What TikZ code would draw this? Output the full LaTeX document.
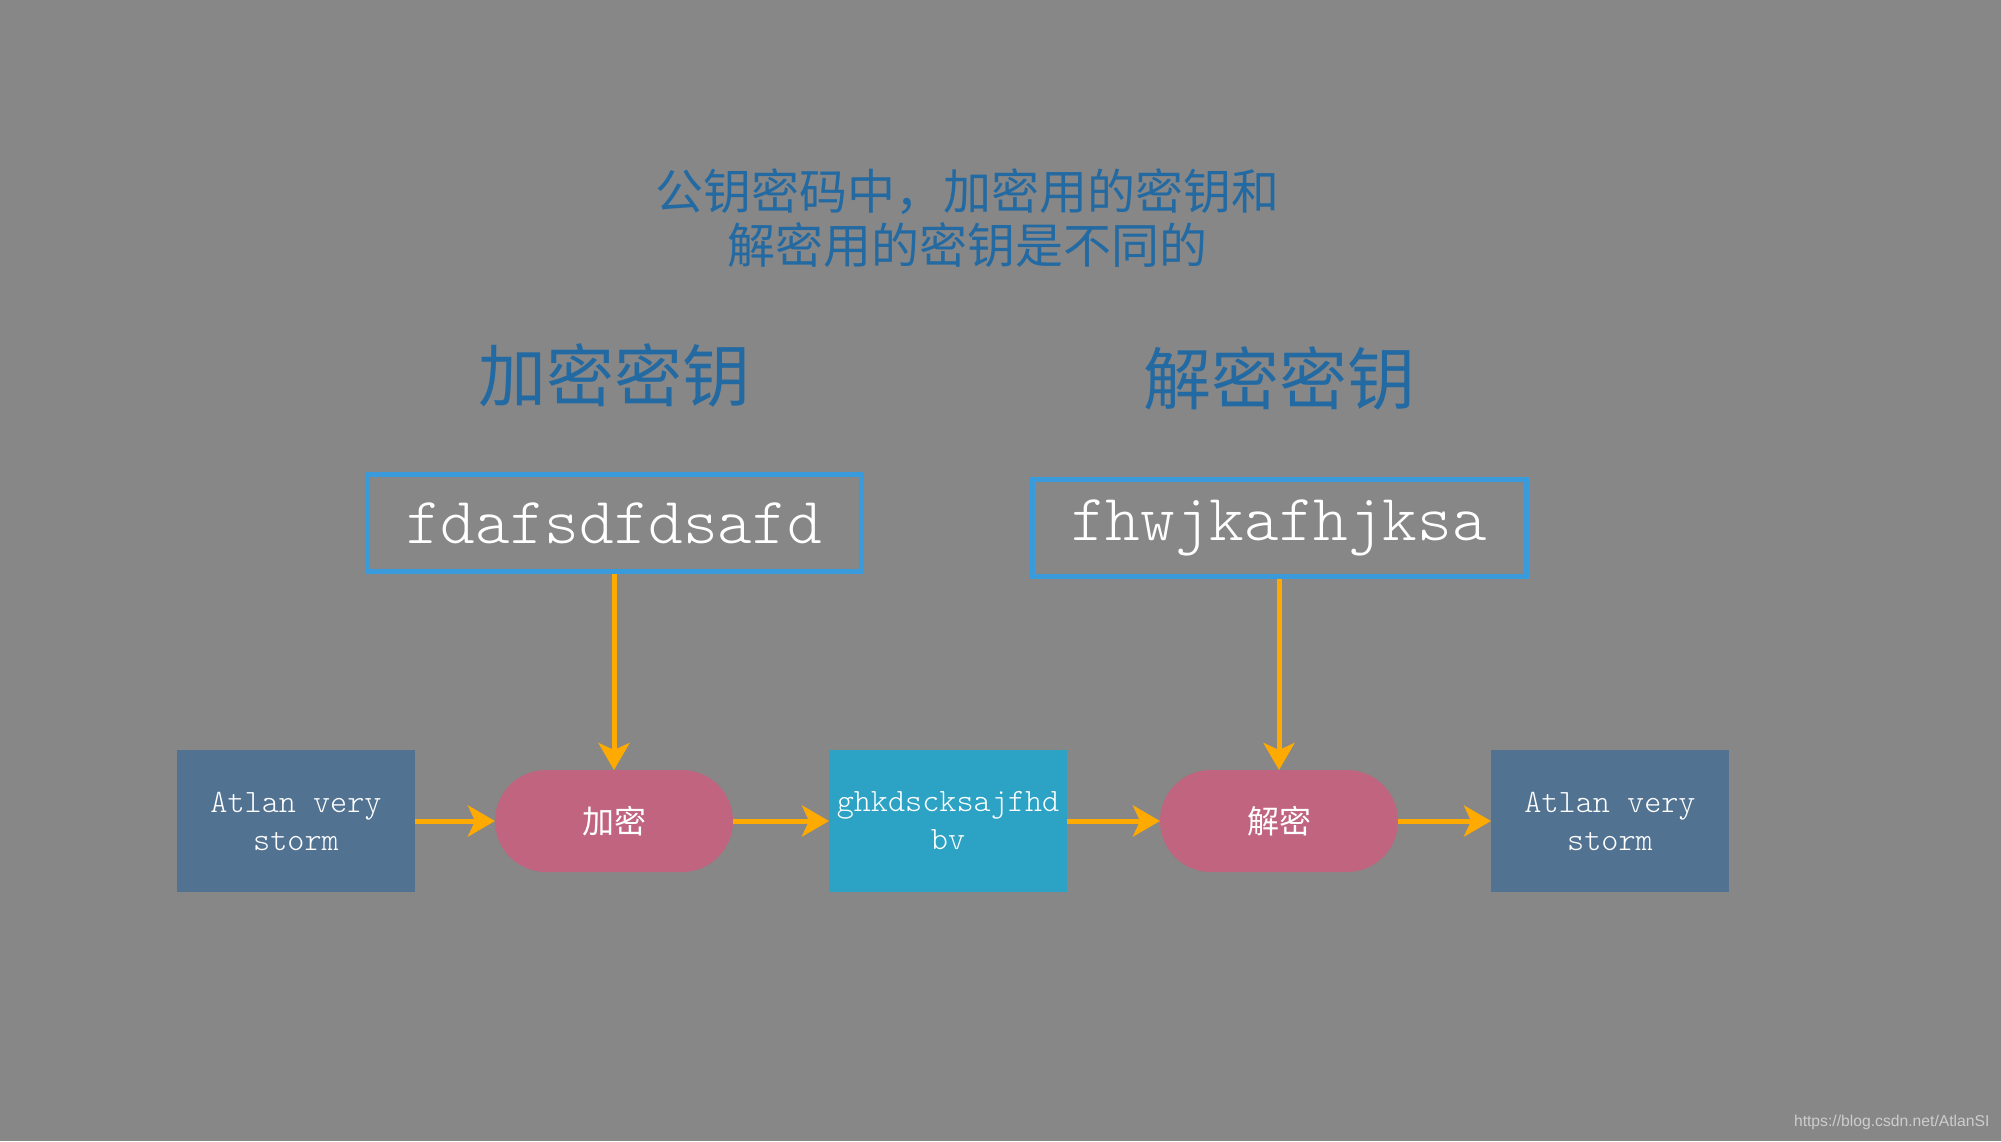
\documentclass[tikz,border=0pt]{standalone}
\usepackage{fontspec}
\newfontfamily\cjk{Noto Sans CJK SC}
\newfontfamily\webfont{Liberation Sans}
\newfontfamily\lightmono{Latin Modern Mono Light}
\usetikzlibrary{arrows.meta,positioning}
\definecolor{slidebg}{RGB}{135,135,135}
\definecolor{plainblue}{RGB}{82,114,146}
\definecolor{cipherblue}{RGB}{44,163,196}
\definecolor{pillrose}{RGB}{192,100,128}
\definecolor{keyblue}{RGB}{58,155,220}
\definecolor{titleblue}{RGB}{35,106,163}
\definecolor{arroworange}{RGB}{255,170,0}
\definecolor{creditgray}{RGB}{205,205,205}

\begin{document}
\begin{tikzpicture}[x=1pt,y=-1pt,->,>={Stealth[length=27pt,width=31pt,inset=7pt]},
                    line width=5pt,node distance=93pt,
                    text box/.style={rectangle,fill=plainblue,text=white,inner sep=0pt,outer sep=0pt,
                      minimum width=238pt,minimum height=142pt,align=center,
                      font=\lightmono\fontsize{32.6}{38}\selectfont},
                    step pill/.style={rectangle,rounded corners=51pt,fill=pillrose,text=white,
                      inner sep=0pt,outer sep=0pt,minimum width=238pt,minimum height=102pt,
                      font=\cjk\fontsize{32}{38}\selectfont},
                    key box/.style={rectangle,draw=keyblue,text=white,inner sep=0pt,
                      minimum width=494pt,minimum height=97pt,
                      font=\lightmono\fontsize{66}{70}\selectfont},
                    key label/.style={text=titleblue,inner sep=0pt,
                      font=\cjk\fontsize{68}{80}\selectfont}]

  \fill[slidebg] (0,0) rectangle (2001,1141);
  \useasboundingbox (0,0) rectangle (2001,1141);

  \node[text=titleblue,align=center,font=\cjk\fontsize{48}{54}\selectfont] (title) at (967,218)
    {公钥密码中，加密用的密钥和\\解密用的密钥是不同的};

  \node[text box] (plain) at (296,821) {Atlan very\\storm};
  \node[step pill] (enc) [right=80pt of plain] {加密};
  \node[text box,fill=cipherblue] (cipher) [right=96pt of enc] {ghkdscksajfhd\\bv};
  \node[step pill] (dec) [right=of cipher] {解密};
  \node[text box] (result) [right=of dec] {Atlan very\\storm};

  \node[key box] (enckey) [above=196pt of enc] {fdafsdfdsafd};
  \node[key box] (deckey) [above=191pt of dec] {fhwjkafhjksa};
  \node[key label] (enclabel) [above=62pt of enckey] {加密密钥};
  \node[key label] (declabel) [above=64pt of deckey] {解密密钥};

  \node[anchor=east,inner sep=0pt,text=creditgray,font=\webfont\fontsize{15.7}{18}\selectfont]
    (credit) at (1992,1122) {https://blog.csdn.net/AtlanSI};

  \path[color=arroworange]
    (plain) edge (enc)
    (enc) edge (cipher)
    (cipher) edge (dec)
    (dec) edge (result)
    (enckey) edge (enc)
    (deckey) edge (dec);
\end{tikzpicture}
\end{document}
